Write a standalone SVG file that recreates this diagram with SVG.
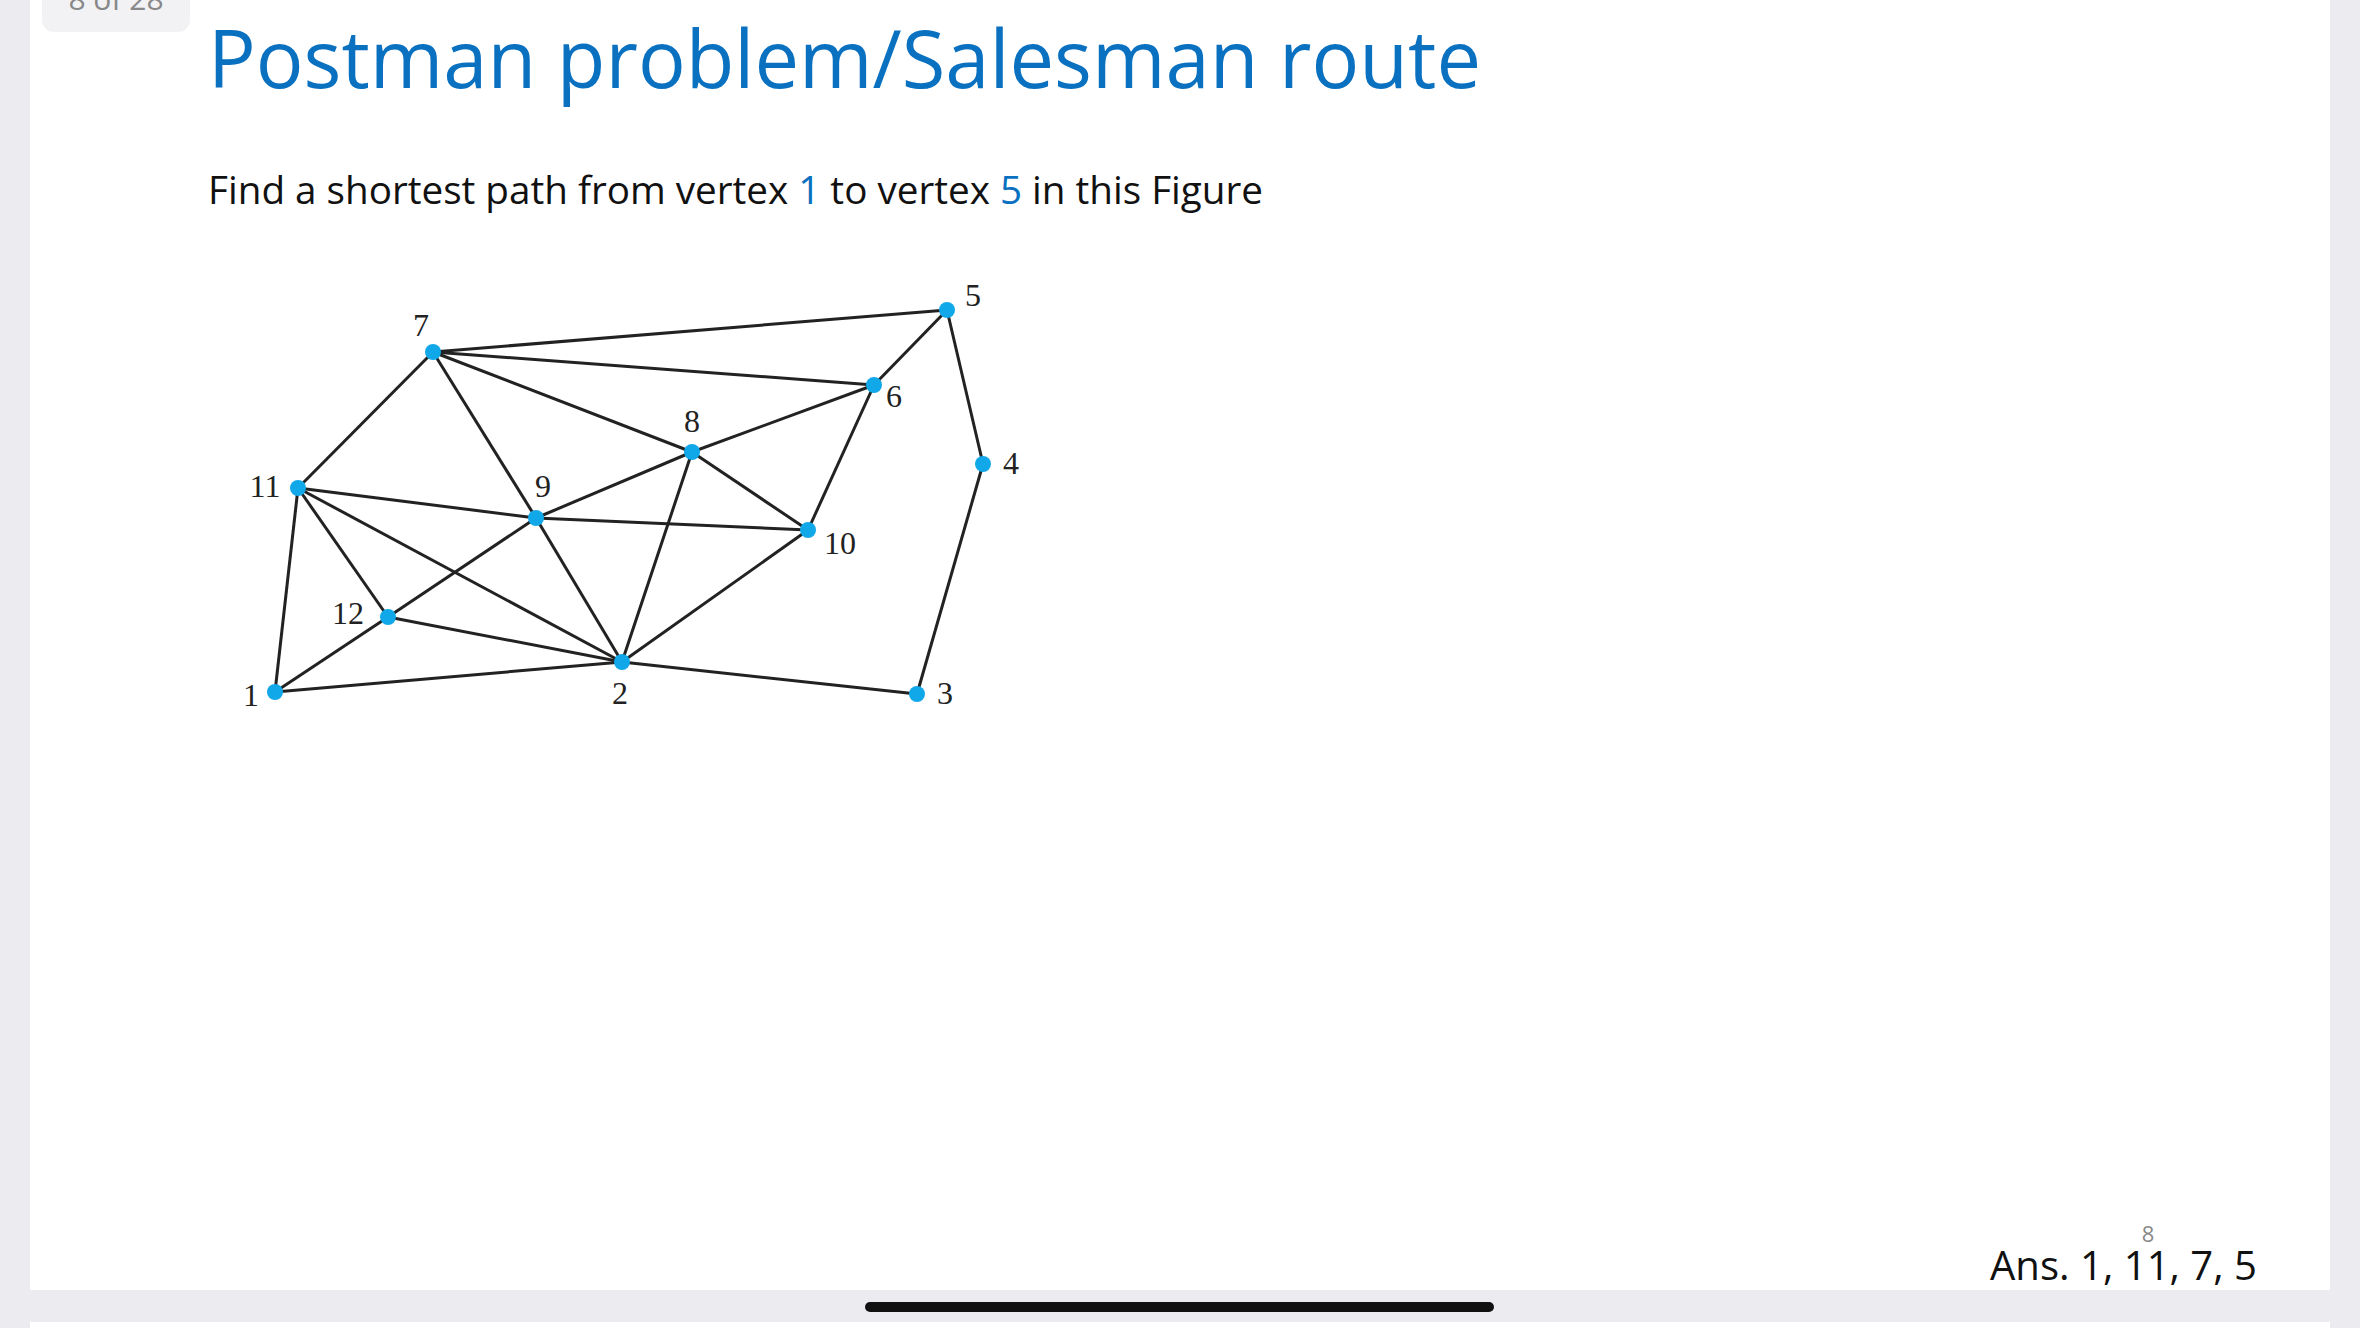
<svg xmlns="http://www.w3.org/2000/svg" width="2360" height="1328" viewBox="0 0 2360 1328">
<style>
.e{stroke:#222;stroke-width:3;fill:none}
.n{fill:#10a8e8}
.l{font-family:"Liberation Serif",serif;font-size:32px;fill:#222;text-anchor:middle}
.s{font-family:"Open Sans","Liberation Sans",sans-serif}
</style>
<rect width="2360" height="1328" fill="#ebebf0"/>
<rect x="30" y="0" width="2300" height="1290" fill="#fff"/>
<rect x="30" y="1322" width="2300" height="10" fill="#fff"/>
<rect x="42" y="-20" width="148" height="52" rx="12" fill="#f2f2f5"/>
<text x="116" y="10" class="s" font-size="30" fill="#888" text-anchor="middle">8 of 28</text>
<rect x="865" y="1302" width="629" height="10" rx="5" fill="#111"/>
<text x="208" y="88" class="s" font-size="80" fill="#0a70c0" textLength="1273" lengthAdjust="spacingAndGlyphs">Postman problem/Salesman route</text>
<text x="208" y="204" class="s" font-size="38" fill="#111" textLength="1055" lengthAdjust="spacingAndGlyphs">Find a shortest path from vertex <tspan fill="#0a70c0">1</tspan> to vertex <tspan fill="#0a70c0">5</tspan> in this Figure</text>
<text x="2148" y="1242" class="s" font-size="22" fill="#888" text-anchor="middle">8</text>
<text x="1990" y="1280" class="s" font-size="40" fill="#111" textLength="267" lengthAdjust="spacingAndGlyphs">Ans. 1, 11, 7, 5</text>
<g id="connectors">
<line class="e" x1="433" y1="352" x2="947" y2="310"/>
<line class="e" x1="433" y1="352" x2="874" y2="385"/>
<line class="e" x1="433" y1="352" x2="692" y2="452"/>
<line class="e" x1="433" y1="352" x2="536" y2="518"/>
<line class="e" x1="433" y1="352" x2="298" y2="488"/>
<line class="e" x1="947" y1="310" x2="874" y2="385"/>
<line class="e" x1="947" y1="310" x2="983" y2="464"/>
<line class="e" x1="983" y1="464" x2="917" y2="694"/>
<line class="e" x1="874" y1="385" x2="692" y2="452"/>
<line class="e" x1="874" y1="385" x2="808" y2="530"/>
<line class="e" x1="692" y1="452" x2="536" y2="518"/>
<line class="e" x1="692" y1="452" x2="622" y2="662"/>
<line class="e" x1="692" y1="452" x2="808" y2="530"/>
<line class="e" x1="298" y1="488" x2="536" y2="518"/>
<line class="e" x1="536" y1="518" x2="808" y2="530"/>
<line class="e" x1="298" y1="488" x2="388" y2="617"/>
<line class="e" x1="298" y1="488" x2="622" y2="662"/>
<line class="e" x1="298" y1="488" x2="275" y2="692"/>
<line class="e" x1="536" y1="518" x2="388" y2="617"/>
<line class="e" x1="536" y1="518" x2="622" y2="662"/>
<line class="e" x1="388" y1="617" x2="275" y2="692"/>
<line class="e" x1="388" y1="617" x2="622" y2="662"/>
<line class="e" x1="275" y1="692" x2="622" y2="662"/>
<line class="e" x1="622" y1="662" x2="917" y2="694"/>
<line class="e" x1="622" y1="662" x2="808" y2="530"/>
</g>
<g id="n1"><circle class="n" cx="275" cy="692" r="8"/><text class="l" x="251" y="706">1</text></g>
<g id="n2"><circle class="n" cx="622" cy="662" r="8"/><text class="l" x="620" y="704">2</text></g>
<g id="n3"><circle class="n" cx="917" cy="694" r="8"/><text class="l" x="945" y="704">3</text></g>
<g id="n4"><circle class="n" cx="983" cy="464" r="8"/><text class="l" x="1011" y="474">4</text></g>
<g id="n5"><circle class="n" cx="947" cy="310" r="8"/><text class="l" x="973" y="306">5</text></g>
<g id="n6"><circle class="n" cx="874" cy="385" r="8"/><text class="l" x="894" y="407">6</text></g>
<g id="n7"><circle class="n" cx="433" cy="352" r="8"/><text class="l" x="421" y="336">7</text></g>
<g id="n8"><circle class="n" cx="692" cy="452" r="8"/><text class="l" x="692" y="432">8</text></g>
<g id="n9"><circle class="n" cx="536" cy="518" r="8"/><text class="l" x="543" y="497">9</text></g>
<g id="n10"><circle class="n" cx="808" cy="530" r="8"/><text class="l" x="840" y="554">10</text></g>
<g id="n11"><circle class="n" cx="298" cy="488" r="8"/><text class="l" x="265" y="497">11</text></g>
<g id="n12"><circle class="n" cx="388" cy="617" r="8"/><text class="l" x="348" y="624">12</text></g>
</svg>
